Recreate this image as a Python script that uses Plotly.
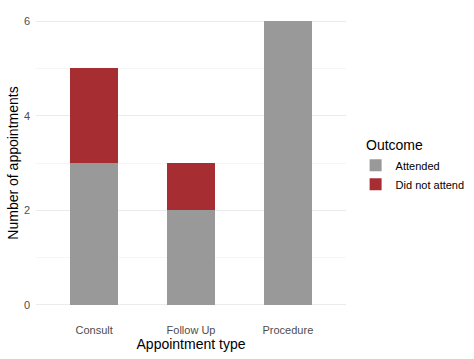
import plotly.graph_objects as go

categories = ["Consult", "Follow Up", "Procedure"]
attended = [3, 2, 6]
did_not_attend = [2, 1, 0]
y_ticks = [0, 2, 4, 6]

font = "Liberation Sans, Arial, sans-serif"

fig = go.Figure()
fig.add_trace(go.Bar(x=categories, y=attended, name="Attended",
                     marker=dict(color="rgb(153,153,153)", line=dict(width=0))))
fig.add_trace(go.Bar(x=categories, y=did_not_attend, name="Did not attend",
                     marker=dict(color="rgb(166,46,51)", line=dict(width=0))))

fig.add_annotation(text="Outcome", xref="paper", yref="paper",
                   x=1.058, y=0.558, xanchor="left", yanchor="middle",
                   showarrow=False, font=dict(size=14, color="black"))

fig.update_layout(
    barmode="stack",
    bargap=0.5,
    width=474, height=359,
    margin=dict(l=36, r=128, t=7, b=40, autoexpand=False),
    paper_bgcolor="white", plot_bgcolor="white",
    font=dict(family=font, size=11, color="#4d4d4d"),
    legend=dict(
        font=dict(size=11, color="black"),
        x=1.031, xanchor="left", y=0.462, yanchor="middle",
        tracegroupgap=0, traceorder="normal",
        itemwidth=30,
    ),
    xaxis=dict(
        title=dict(text="Appointment type", font=dict(size=14, color="black"), standoff=3),
        range=[-0.6, 2.6], showgrid=False, zeroline=False, showline=False,
        ticks="", tickfont=dict(size=11, color="#4d4d4d"), automargin=False,
        ticklabelstandoff=3,
    ),
    yaxis=dict(
        title=dict(text="Number of appointments", font=dict(size=14, color="black"), standoff=1),
        range=[-0.3, 6.3], tickvals=y_ticks, ticktext=[str(v) for v in y_ticks],
        showgrid=True, gridcolor="#ebebeb", gridwidth=1,
        zeroline=False, showline=False, ticks="", automargin=False,
        tickfont=dict(size=11, color="#4d4d4d"), ticklabelstandoff=5,
        minor=dict(tickvals=[1, 3, 5], showgrid=True, gridcolor="#f5f5f5", gridwidth=1),
    ),
)

fig.write_html("out.html", config={"displayModeBar": False},
               post_script="document.body.style.margin='0';")
